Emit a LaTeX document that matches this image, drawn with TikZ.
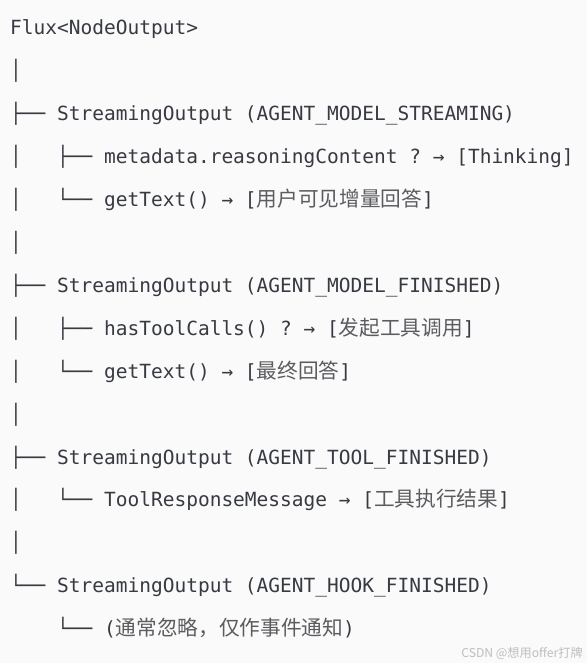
\documentclass[tikz,border=0pt]{standalone}
\usepackage{fontspec}
\usepackage{xcolor}
\usetikzlibrary{positioning}
\newfontfamily\codefont{DejaVu Sans Mono}
\newfontfamily\cjk[Scale=1.06]{Noto Sans CJK SC}
\definecolor{codeBg}{RGB}{250,250,250}
\definecolor{codeInk}{RGB}{56,58,66}
\definecolor{cjkInk}{RGB}{92,92,96}
\definecolor{markInk}{RGB}{190,190,190}
\newcommand{\zh}[1]{{\cjk\color{cjkInk}#1}}

\begin{document}
\begin{tikzpicture}[x=1pt, y=-1pt,
    codeline/.style={anchor=base west, inner sep=0pt, text=codeInk,
      font=\codefont\fontsize{19.5}{22}\selectfont}]
        % Code block background
        \fill[codeBg] (0,0) rectangle (587,663);
        \useasboundingbox (0,0) rectangle (587,663);
        % Root
        \node[codeline] (flux) at (10,35) {Flux<NodeOutput>};
        \node[codeline] (gap0) at (10,77.9) {│};
        % Model streaming
        \node[codeline] (streaming) at (10,120.8) {├──~StreamingOutput~(AGENT\_MODEL\_STREAMING)};
        \node[codeline] (thinking) at (10,163.7) {│~~~├──~metadata.reasoningContent~?~→~[Thinking]};
        \node[codeline] (delta) at (10,206.6) {│~~~└──~getText()~→~[\zh{用户可见增量回答}]};
        \node[codeline] (gap1) at (10,249.5) {│};
        % Model finished
        \node[codeline] (finished) at (10,292.4) {├──~StreamingOutput~(AGENT\_MODEL\_FINISHED)};
        \node[codeline] (toolcall) at (10,335.3) {│~~~├──~hasToolCalls()~?~→~[\zh{发起工具调用}]};
        \node[codeline] (answer) at (10,378.2) {│~~~└──~getText()~→~[\zh{最终回答}]};
        \node[codeline] (gap2) at (10,421.1) {│};
        % Tool finished
        \node[codeline] (tool) at (10,464) {├──~StreamingOutput~(AGENT\_TOOL\_FINISHED)};
        \node[codeline] (toolres) at (10,506.9) {│~~~└──~ToolResponseMessage~→~[\zh{工具执行结果}]};
        \node[codeline] (gap3) at (10,549.8) {│};
        % Hook finished
        \node[codeline] (hook) at (10,592.7) {└──~StreamingOutput~(AGENT\_HOOK\_FINISHED)};
        \node[codeline] (notice) at (10,635.6) {~~~~└──~(\zh{通常忽略，仅作事件通知})};
        % Watermark
        \node[anchor=base east, inner sep=0pt, text=markInk,
          font=\cjk\fontsize{11.5}{12}\selectfont] (mark) at (583,657) {CSDN @想用offer打牌};
      \end{tikzpicture}
\end{document}
